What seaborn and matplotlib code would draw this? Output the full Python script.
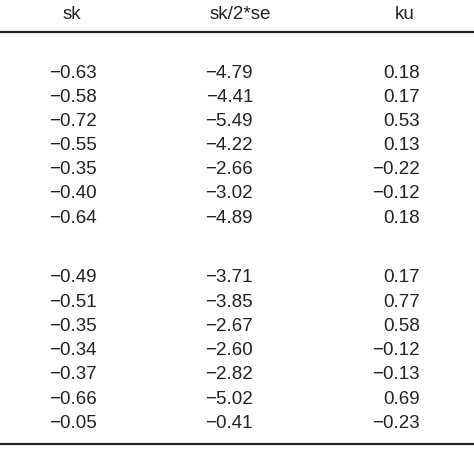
import matplotlib
matplotlib.use("Agg")
import matplotlib.pyplot as plt
import seaborn as sns

sns.set_theme(style="white")
plt.rcParams['font.family'] = ['Liberation Sans', 'DejaVu Sans']

headers = ["sk", "sk/2*se", "ku"]
sk_a = ["\u22120.63", "\u22120.58", "\u22120.72", "\u22120.55", "\u22120.35", "\u22120.40", "\u22120.64"]
se_a = ["\u22124.79", "\u22124.41", "\u22125.49", "\u22124.22", "\u22122.66", "\u22123.02", "\u22124.89"]
ku_a = ["0.18", "0.17", "0.53", "0.13", "\u22120.22", "\u22120.12", "0.18"]
sk_b = ["\u22120.49", "\u22120.51", "\u22120.35", "\u22120.34", "\u22120.37", "\u22120.66", "\u22120.05"]
se_b = ["\u22123.71", "\u22123.85", "\u22122.67", "\u22122.60", "\u22122.82", "\u22125.02", "\u22120.41"]
ku_b = ["0.17", "0.77", "0.58", "\u22120.12", "\u22120.13", "0.69", "\u22120.23"]

fig = plt.figure(figsize=(4.74, 4.74), dpi=100)
ax = fig.add_axes([0, 0, 1, 1])
ax.set_xlim(0, 474)
ax.set_ylim(474, 0)
ax.axis("off")

fs = 13.5
for x, h in zip([72, 240, 405], headers):
    ax.text(x, 14, h, ha="center", va="center", fontsize=fs, color="#222222")

ax.axhline(32, color="#222222", lw=1.6)
ax.axhline(444, color="#222222", lw=1.6)

right = [97, 253, 420]
step = 24.2
for start, cols in [(73, (sk_a, se_a, ku_a)), (278, (sk_b, se_b, ku_b))]:
    for x, col in zip(right, cols):
        for i, v in enumerate(col):
            ax.text(x, start + i * step, v, ha="right", va="center", fontsize=fs, color="#222222")

fig.savefig("out.png", dpi=100, facecolor="white")
